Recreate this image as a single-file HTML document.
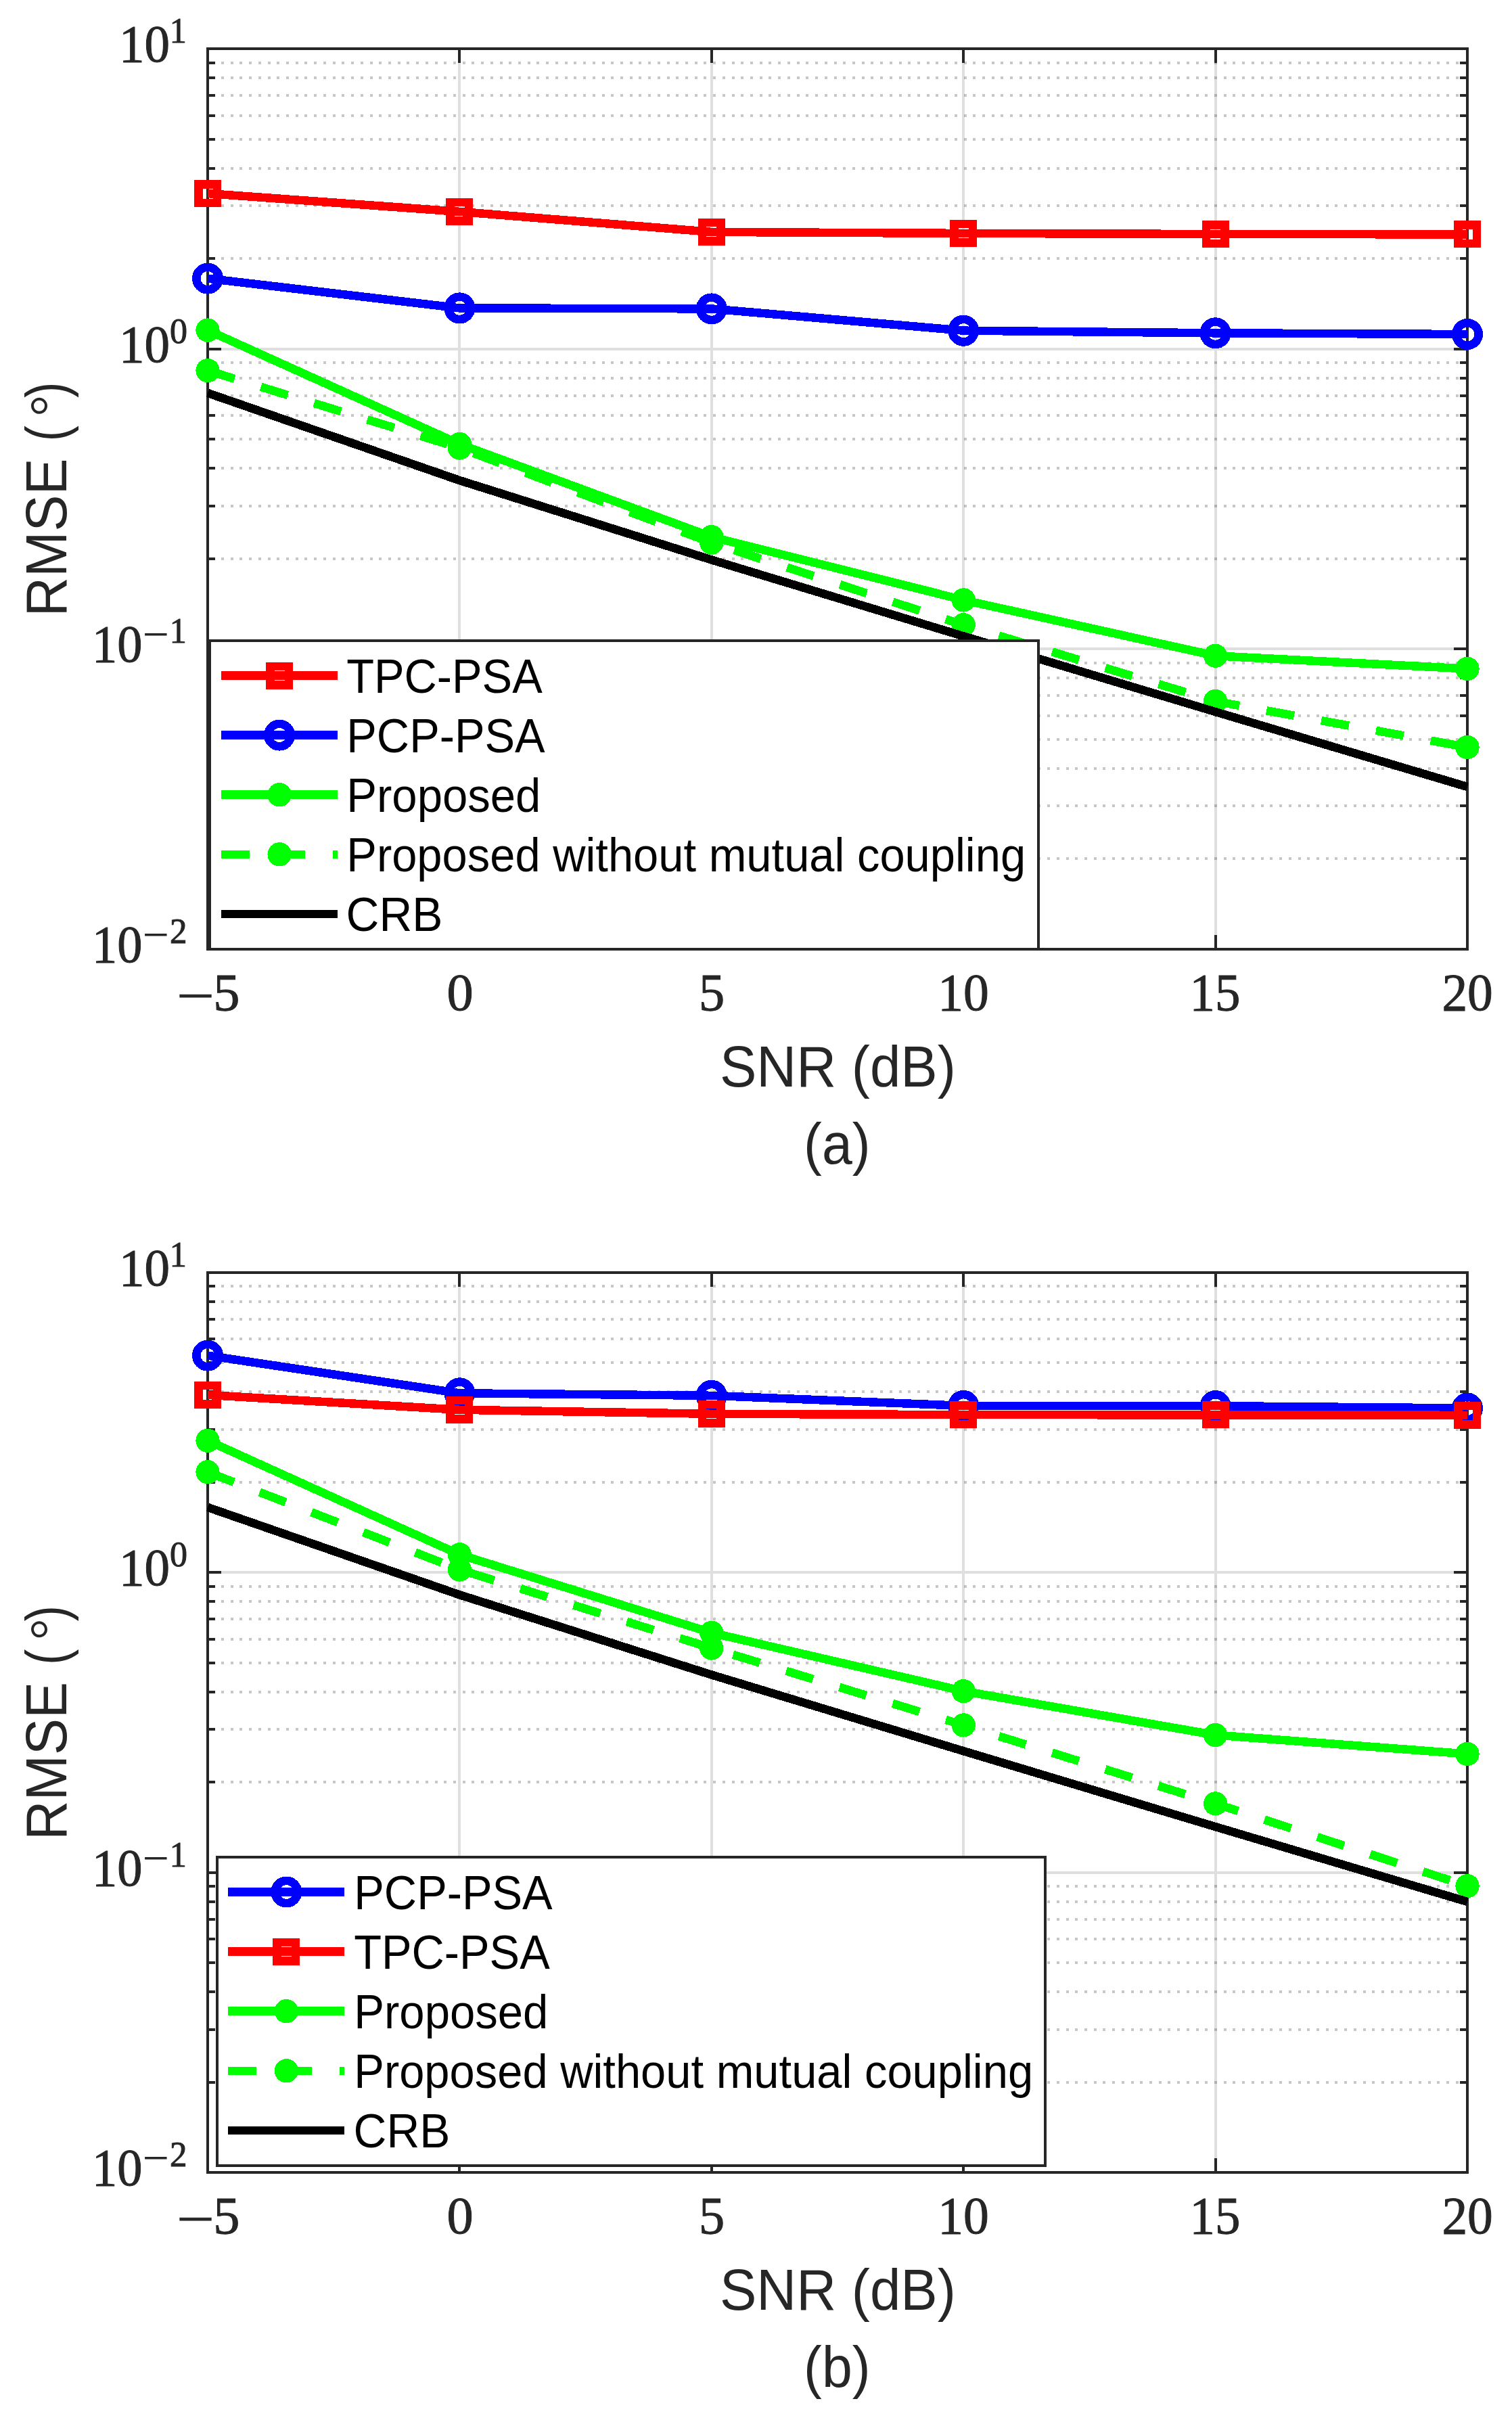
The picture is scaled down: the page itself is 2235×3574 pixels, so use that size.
<!DOCTYPE html><html><head><meta charset="utf-8"><title>RMSE versus SNR</title><style>html,body{margin:0;padding:0;background:#fff}svg{display:block}</style></head><body>
<svg width="2235" height="3574" viewBox="0 0 2235 3574">
<rect width="2235" height="3574" fill="#fff"/>
<g stroke="#dfdfdf" stroke-width="4" shape-rendering="crispEdges"><line x1="679" y1="72" x2="679" y2="1403"/><line x1="1052" y1="72" x2="1052" y2="1403"/><line x1="1424" y1="72" x2="1424" y2="1403"/><line x1="1797" y1="72" x2="1797" y2="1403"/><line x1="307" y1="516" x2="2169" y2="516"/><line x1="307" y1="959" x2="2169" y2="959"/></g>
<g stroke="#262626" stroke-opacity=".26" stroke-width="4" stroke-dasharray="4 9.72" shape-rendering="crispEdges"><line x1="327" y1="382" x2="2157" y2="382"/><line x1="327" y1="304" x2="2157" y2="304"/><line x1="327" y1="249" x2="2157" y2="249"/><line x1="327" y1="206" x2="2157" y2="206"/><line x1="327" y1="171" x2="2157" y2="171"/><line x1="327" y1="141" x2="2157" y2="141"/><line x1="327" y1="115" x2="2157" y2="115"/><line x1="327" y1="93" x2="2157" y2="93"/><line x1="327" y1="826" x2="2157" y2="826"/><line x1="327" y1="748" x2="2157" y2="748"/><line x1="327" y1="692" x2="2157" y2="692"/><line x1="327" y1="649" x2="2157" y2="649"/><line x1="327" y1="614" x2="2157" y2="614"/><line x1="327" y1="585" x2="2157" y2="585"/><line x1="327" y1="559" x2="2157" y2="559"/><line x1="327" y1="536" x2="2157" y2="536"/><line x1="327" y1="1269" x2="2157" y2="1269"/><line x1="327" y1="1191" x2="2157" y2="1191"/><line x1="327" y1="1136" x2="2157" y2="1136"/><line x1="327" y1="1093" x2="2157" y2="1093"/><line x1="327" y1="1058" x2="2157" y2="1058"/><line x1="327" y1="1028" x2="2157" y2="1028"/><line x1="327" y1="1002" x2="2157" y2="1002"/><line x1="327" y1="980" x2="2157" y2="980"/></g>
<g stroke="#262626" stroke-width="4" fill="none" shape-rendering="crispEdges"><rect x="307" y="72" width="1862" height="1331" fill="none"/><line x1="679" y1="72" x2="679" y2="93"/><line x1="679" y1="1403" x2="679" y2="1382"/><line x1="1052" y1="72" x2="1052" y2="93"/><line x1="1052" y1="1403" x2="1052" y2="1382"/><line x1="1424" y1="72" x2="1424" y2="93"/><line x1="1424" y1="1403" x2="1424" y2="1382"/><line x1="1797" y1="72" x2="1797" y2="93"/><line x1="1797" y1="1403" x2="1797" y2="1382"/><line x1="307" y1="516" x2="327" y2="516"/><line x1="2169" y1="516" x2="2149" y2="516"/><line x1="307" y1="959" x2="327" y2="959"/><line x1="2169" y1="959" x2="2149" y2="959"/><line x1="307" y1="382" x2="318" y2="382"/><line x1="2169" y1="382" x2="2158" y2="382"/><line x1="307" y1="304" x2="318" y2="304"/><line x1="2169" y1="304" x2="2158" y2="304"/><line x1="307" y1="249" x2="318" y2="249"/><line x1="2169" y1="249" x2="2158" y2="249"/><line x1="307" y1="206" x2="318" y2="206"/><line x1="2169" y1="206" x2="2158" y2="206"/><line x1="307" y1="171" x2="318" y2="171"/><line x1="2169" y1="171" x2="2158" y2="171"/><line x1="307" y1="141" x2="318" y2="141"/><line x1="2169" y1="141" x2="2158" y2="141"/><line x1="307" y1="115" x2="318" y2="115"/><line x1="2169" y1="115" x2="2158" y2="115"/><line x1="307" y1="93" x2="318" y2="93"/><line x1="2169" y1="93" x2="2158" y2="93"/><line x1="307" y1="826" x2="318" y2="826"/><line x1="2169" y1="826" x2="2158" y2="826"/><line x1="307" y1="748" x2="318" y2="748"/><line x1="2169" y1="748" x2="2158" y2="748"/><line x1="307" y1="692" x2="318" y2="692"/><line x1="2169" y1="692" x2="2158" y2="692"/><line x1="307" y1="649" x2="318" y2="649"/><line x1="2169" y1="649" x2="2158" y2="649"/><line x1="307" y1="614" x2="318" y2="614"/><line x1="2169" y1="614" x2="2158" y2="614"/><line x1="307" y1="585" x2="318" y2="585"/><line x1="2169" y1="585" x2="2158" y2="585"/><line x1="307" y1="559" x2="318" y2="559"/><line x1="2169" y1="559" x2="2158" y2="559"/><line x1="307" y1="536" x2="318" y2="536"/><line x1="2169" y1="536" x2="2158" y2="536"/><line x1="307" y1="1269" x2="318" y2="1269"/><line x1="2169" y1="1269" x2="2158" y2="1269"/><line x1="307" y1="1191" x2="318" y2="1191"/><line x1="2169" y1="1191" x2="2158" y2="1191"/><line x1="307" y1="1136" x2="318" y2="1136"/><line x1="2169" y1="1136" x2="2158" y2="1136"/><line x1="307" y1="1093" x2="318" y2="1093"/><line x1="2169" y1="1093" x2="2158" y2="1093"/><line x1="307" y1="1058" x2="318" y2="1058"/><line x1="2169" y1="1058" x2="2158" y2="1058"/><line x1="307" y1="1028" x2="318" y2="1028"/><line x1="2169" y1="1028" x2="2158" y2="1028"/><line x1="307" y1="1002" x2="318" y2="1002"/><line x1="2169" y1="1002" x2="2158" y2="1002"/><line x1="307" y1="980" x2="318" y2="980"/><line x1="2169" y1="980" x2="2158" y2="980"/></g>
<polyline points="307.0,286.0 679.4,312.9 1051.8,342.9 1424.2,344.9 1796.6,346.0 2169.0,346.4" fill="none" stroke="#ff0000" stroke-width="12.5" stroke-linejoin="round" shape-rendering="crispEdges"/>
<rect x="293.25" y="272.25" width="27.5" height="27.5" fill="none" stroke="#ff0000" stroke-width="12.5" shape-rendering="crispEdges"/>
<rect x="665.65" y="299.15" width="27.5" height="27.5" fill="none" stroke="#ff0000" stroke-width="12.5" shape-rendering="crispEdges"/>
<rect x="1038.05" y="329.15" width="27.5" height="27.5" fill="none" stroke="#ff0000" stroke-width="12.5" shape-rendering="crispEdges"/>
<rect x="1410.45" y="331.15" width="27.5" height="27.5" fill="none" stroke="#ff0000" stroke-width="12.5" shape-rendering="crispEdges"/>
<rect x="1782.85" y="332.25" width="27.5" height="27.5" fill="none" stroke="#ff0000" stroke-width="12.5" shape-rendering="crispEdges"/>
<rect x="2155.25" y="332.65" width="27.5" height="27.5" fill="none" stroke="#ff0000" stroke-width="12.5" shape-rendering="crispEdges"/>
<polyline points="307.0,411.6 679.4,455.4 1051.8,456.4 1424.2,488.7 1796.6,492.3 2169.0,494.0" fill="none" stroke="#0000ff" stroke-width="12.5" stroke-linejoin="round" shape-rendering="crispEdges"/>
<circle cx="307.00" cy="411.60" r="16.75" fill="none" stroke="#0000ff" stroke-width="12.5" shape-rendering="crispEdges"/>
<circle cx="679.40" cy="455.40" r="16.75" fill="none" stroke="#0000ff" stroke-width="12.5" shape-rendering="crispEdges"/>
<circle cx="1051.80" cy="456.40" r="16.75" fill="none" stroke="#0000ff" stroke-width="12.5" shape-rendering="crispEdges"/>
<circle cx="1424.20" cy="488.70" r="16.75" fill="none" stroke="#0000ff" stroke-width="12.5" shape-rendering="crispEdges"/>
<circle cx="1796.60" cy="492.30" r="16.75" fill="none" stroke="#0000ff" stroke-width="12.5" shape-rendering="crispEdges"/>
<circle cx="2169.00" cy="494.00" r="16.75" fill="none" stroke="#0000ff" stroke-width="12.5" shape-rendering="crispEdges"/>
<polyline points="307.0,488.1 679.4,656.4 1051.8,793.5 1424.2,886.9 1796.6,969.3 2169.0,988.5" fill="none" stroke="#00ff00" stroke-width="12.5" stroke-linejoin="round" shape-rendering="crispEdges"/>
<circle cx="307.00" cy="488.10" r="17.65" fill="#00ff00" shape-rendering="crispEdges"/>
<circle cx="679.40" cy="656.40" r="17.65" fill="#00ff00" shape-rendering="crispEdges"/>
<circle cx="1051.80" cy="793.50" r="17.65" fill="#00ff00" shape-rendering="crispEdges"/>
<circle cx="1424.20" cy="886.90" r="17.65" fill="#00ff00" shape-rendering="crispEdges"/>
<circle cx="1796.60" cy="969.30" r="17.65" fill="#00ff00" shape-rendering="crispEdges"/>
<circle cx="2169.00" cy="988.50" r="17.65" fill="#00ff00" shape-rendering="crispEdges"/>
<polyline points="307.0,547.7 679.4,662.0 1051.8,802.2 1424.2,923.7 1796.6,1036.5 2169.0,1104.5" fill="none" stroke="#00ff00" stroke-width="12.5" stroke-linejoin="round" stroke-dasharray="41.6 40.65" shape-rendering="crispEdges"/>
<circle cx="307.00" cy="547.70" r="17.65" fill="#00ff00" shape-rendering="crispEdges"/>
<circle cx="679.40" cy="662.00" r="17.65" fill="#00ff00" shape-rendering="crispEdges"/>
<circle cx="1051.80" cy="802.20" r="17.65" fill="#00ff00" shape-rendering="crispEdges"/>
<circle cx="1424.20" cy="923.70" r="17.65" fill="#00ff00" shape-rendering="crispEdges"/>
<circle cx="1796.60" cy="1036.50" r="17.65" fill="#00ff00" shape-rendering="crispEdges"/>
<circle cx="2169.00" cy="1104.50" r="17.65" fill="#00ff00" shape-rendering="crispEdges"/>
<polyline points="307.0,580.9 679.4,710.1 1051.8,827.5 1424.2,940.3 1796.6,1052.1 2169.0,1163.0" fill="none" stroke="#000000" stroke-width="12.5" stroke-linejoin="round" shape-rendering="crispEdges"/>
<rect x="310" y="947" width="1225" height="456" fill="#fff" stroke="#262626" stroke-width="4" shape-rendering="crispEdges"/>
<polyline points="327.0,998.5 499.2,998.5" fill="none" stroke="#ff0000" stroke-width="12.5" stroke-linejoin="round" shape-rendering="crispEdges"/>
<rect x="399.35" y="984.75" width="27.5" height="27.5" fill="none" stroke="#ff0000" stroke-width="12.5" shape-rendering="crispEdges"/>
<text font-family="'Liberation Sans',sans-serif" fill="#000" style="white-space:pre"><tspan x="512.20" y="1023.90" font-size="70.3" textLength="289.54" lengthAdjust="spacingAndGlyphs">TPC-PSA</tspan></text>
<polyline points="327.0,1086.6 499.2,1086.6" fill="none" stroke="#0000ff" stroke-width="12.5" stroke-linejoin="round" shape-rendering="crispEdges"/>
<circle cx="413.10" cy="1086.60" r="16.75" fill="none" stroke="#0000ff" stroke-width="12.5" shape-rendering="crispEdges"/>
<text font-family="'Liberation Sans',sans-serif" fill="#000" style="white-space:pre"><tspan x="512.30" y="1112.00" font-size="70.3" textLength="293.40" lengthAdjust="spacingAndGlyphs">PCP-PSA</tspan></text>
<polyline points="327.0,1174.7 499.2,1174.7" fill="none" stroke="#00ff00" stroke-width="12.5" stroke-linejoin="round" shape-rendering="crispEdges"/>
<circle cx="413.10" cy="1174.70" r="17.65" fill="#00ff00" shape-rendering="crispEdges"/>
<text font-family="'Liberation Sans',sans-serif" fill="#000" style="white-space:pre"><tspan x="512.28" y="1200.10" font-size="70.3" textLength="287.14" lengthAdjust="spacingAndGlyphs">Proposed</tspan></text>
<polyline points="327.0,1262.8 499.2,1262.8" fill="none" stroke="#00ff00" stroke-width="12.5" stroke-linejoin="round" stroke-dasharray="41.6 40.65" shape-rendering="crispEdges"/>
<circle cx="413.10" cy="1262.80" r="17.65" fill="#00ff00" shape-rendering="crispEdges"/>
<text font-family="'Liberation Sans',sans-serif" fill="#000" style="white-space:pre"><tspan x="512.29" y="1288.20" font-size="70.3" textLength="1003.82" lengthAdjust="spacingAndGlyphs">Proposed without mutual coupling</tspan></text>
<polyline points="327.0,1350.9 499.2,1350.9" fill="none" stroke="#000000" stroke-width="12.5" stroke-linejoin="round" shape-rendering="crispEdges"/>
<text font-family="'Liberation Sans',sans-serif" fill="#000" style="white-space:pre"><tspan x="511.55" y="1376.30" font-size="70.3" textLength="142.84" lengthAdjust="spacingAndGlyphs">CRB</tspan></text>
<text font-family="'Liberation Serif',serif" fill="#262626" stroke="#262626" stroke-width="1.0" style="white-space:pre"><tspan x="175.88" y="90.70" font-size="77.4" textLength="75.04" lengthAdjust="spacingAndGlyphs">10</tspan><tspan x="250.85" y="63.20" font-size="52.0" textLength="25.04" lengthAdjust="spacingAndGlyphs">1</tspan></text>
<text font-family="'Liberation Serif',serif" fill="#262626" stroke="#262626" stroke-width="1.0" style="white-space:pre"><tspan x="175.88" y="534.70" font-size="77.4" textLength="75.04" lengthAdjust="spacingAndGlyphs">10</tspan><tspan x="251.00" y="507.20" font-size="52.0" textLength="26.00" lengthAdjust="spacingAndGlyphs">0</tspan></text>
<text font-family="'Liberation Serif',serif" fill="#262626" stroke="#262626" stroke-width="1.0" style="white-space:pre"><tspan x="136.03" y="977.70" font-size="77.4" textLength="74.47" lengthAdjust="spacingAndGlyphs">10</tspan><tspan x="211.32" y="954.90" font-size="52.0" textLength="37.77" lengthAdjust="spacingAndGlyphs">−</tspan><tspan x="250.85" y="950.20" font-size="52.0" textLength="25.04" lengthAdjust="spacingAndGlyphs">1</tspan></text>
<text font-family="'Liberation Serif',serif" fill="#262626" stroke="#262626" stroke-width="1.0" style="white-space:pre"><tspan x="136.03" y="1421.70" font-size="77.4" textLength="74.47" lengthAdjust="spacingAndGlyphs">10</tspan><tspan x="211.32" y="1398.90" font-size="52.0" textLength="37.77" lengthAdjust="spacingAndGlyphs">−</tspan><tspan x="251.04" y="1394.20" font-size="52.0" textLength="25.53" lengthAdjust="spacingAndGlyphs">2</tspan></text>
<text font-family="'Liberation Serif',serif" fill="#262626" stroke="#262626" stroke-width="1.0" style="white-space:pre"><tspan x="260.96" y="1497.85" font-size="77.4" textLength="55.81" lengthAdjust="spacingAndGlyphs">−</tspan><tspan x="315.35" y="1492.80" font-size="77.4" textLength="39.19" lengthAdjust="spacingAndGlyphs">5</tspan></text>
<text font-family="'Liberation Serif',serif" fill="#262626" stroke="#262626" stroke-width="1.0" style="white-space:pre"><tspan x="660.58" y="1492.80" font-size="77.4" textLength="39.16" lengthAdjust="spacingAndGlyphs">0</tspan></text>
<text font-family="'Liberation Serif',serif" fill="#262626" stroke="#262626" stroke-width="1.0" style="white-space:pre"><tspan x="1033.05" y="1492.80" font-size="77.4" textLength="38.22" lengthAdjust="spacingAndGlyphs">5</tspan></text>
<text font-family="'Liberation Serif',serif" fill="#262626" stroke="#262626" stroke-width="1.0" style="white-space:pre"><tspan x="1386.24" y="1492.80" font-size="77.4" textLength="75.60" lengthAdjust="spacingAndGlyphs">10</tspan></text>
<text font-family="'Liberation Serif',serif" fill="#262626" stroke="#262626" stroke-width="1.0" style="white-space:pre"><tspan x="1758.60" y="1492.80" font-size="77.4" textLength="74.81" lengthAdjust="spacingAndGlyphs">15</tspan></text>
<text font-family="'Liberation Serif',serif" fill="#262626" stroke="#262626" stroke-width="1.0" style="white-space:pre"><tspan x="2131.38" y="1492.80" font-size="77.4" textLength="75.46" lengthAdjust="spacingAndGlyphs">20</tspan></text>
<text font-family="'Liberation Sans',sans-serif" fill="#262626" style="white-space:pre"><tspan x="1063.96" y="1605.90" font-size="85" textLength="348.88" lengthAdjust="spacingAndGlyphs">SNR (dB)</tspan></text>
<text font-family="'Liberation Sans',sans-serif" fill="#262626" style="white-space:pre"><tspan x="1188.06" y="1719.70" font-size="85" textLength="98.53" lengthAdjust="spacingAndGlyphs">(a)</tspan></text>
<text font-family="'Liberation Sans',sans-serif" fill="#262626" transform="translate(98,736.75) rotate(-90)" style="white-space:pre"><tspan x="-174.67" y="0.00" font-size="85" textLength="233.99" lengthAdjust="spacingAndGlyphs">RMSE</tspan> <tspan x="84.61" y="0.00" font-size="85" textLength="23.16" lengthAdjust="spacingAndGlyphs">(</tspan><tspan x="121.33" y="1.00" font-size="79.5" textLength="31.53" lengthAdjust="spacingAndGlyphs" font-family="'Liberation Serif',serif" stroke="none">°</tspan><tspan x="148.87" y="0.00" font-size="85" textLength="23.42" lengthAdjust="spacingAndGlyphs">)</tspan></text>
<g stroke="#dfdfdf" stroke-width="4" shape-rendering="crispEdges"><line x1="679" y1="1881" x2="679" y2="3211"/><line x1="1052" y1="1881" x2="1052" y2="3211"/><line x1="1424" y1="1881" x2="1424" y2="3211"/><line x1="1797" y1="1881" x2="1797" y2="3211"/><line x1="307" y1="2324" x2="2169" y2="2324"/><line x1="307" y1="2768" x2="2169" y2="2768"/></g>
<g stroke="#262626" stroke-opacity=".26" stroke-width="4" stroke-dasharray="4 9.72" shape-rendering="crispEdges"><line x1="327" y1="2191" x2="2157" y2="2191"/><line x1="327" y1="2113" x2="2157" y2="2113"/><line x1="327" y1="2057" x2="2157" y2="2057"/><line x1="327" y1="2014" x2="2157" y2="2014"/><line x1="327" y1="1979" x2="2157" y2="1979"/><line x1="327" y1="1950" x2="2157" y2="1950"/><line x1="327" y1="1924" x2="2157" y2="1924"/><line x1="327" y1="1901" x2="2157" y2="1901"/><line x1="327" y1="2634" x2="2157" y2="2634"/><line x1="327" y1="2556" x2="2157" y2="2556"/><line x1="327" y1="2501" x2="2157" y2="2501"/><line x1="327" y1="2458" x2="2157" y2="2458"/><line x1="327" y1="2423" x2="2157" y2="2423"/><line x1="327" y1="2393" x2="2157" y2="2393"/><line x1="327" y1="2367" x2="2157" y2="2367"/><line x1="327" y1="2345" x2="2157" y2="2345"/><line x1="327" y1="3078" x2="2157" y2="3078"/><line x1="327" y1="3000" x2="2157" y2="3000"/><line x1="327" y1="2944" x2="2157" y2="2944"/><line x1="327" y1="2901" x2="2157" y2="2901"/><line x1="327" y1="2866" x2="2157" y2="2866"/><line x1="327" y1="2837" x2="2157" y2="2837"/><line x1="327" y1="2811" x2="2157" y2="2811"/><line x1="327" y1="2788" x2="2157" y2="2788"/></g>
<g stroke="#262626" stroke-width="4" fill="none" shape-rendering="crispEdges"><rect x="307" y="1881" width="1862" height="1330" fill="none"/><line x1="679" y1="1881" x2="679" y2="1902"/><line x1="679" y1="3211" x2="679" y2="3190"/><line x1="1052" y1="1881" x2="1052" y2="1902"/><line x1="1052" y1="3211" x2="1052" y2="3190"/><line x1="1424" y1="1881" x2="1424" y2="1902"/><line x1="1424" y1="3211" x2="1424" y2="3190"/><line x1="1797" y1="1881" x2="1797" y2="1902"/><line x1="1797" y1="3211" x2="1797" y2="3190"/><line x1="307" y1="2324" x2="327" y2="2324"/><line x1="2169" y1="2324" x2="2149" y2="2324"/><line x1="307" y1="2768" x2="327" y2="2768"/><line x1="2169" y1="2768" x2="2149" y2="2768"/><line x1="307" y1="2191" x2="318" y2="2191"/><line x1="2169" y1="2191" x2="2158" y2="2191"/><line x1="307" y1="2113" x2="318" y2="2113"/><line x1="2169" y1="2113" x2="2158" y2="2113"/><line x1="307" y1="2057" x2="318" y2="2057"/><line x1="2169" y1="2057" x2="2158" y2="2057"/><line x1="307" y1="2014" x2="318" y2="2014"/><line x1="2169" y1="2014" x2="2158" y2="2014"/><line x1="307" y1="1979" x2="318" y2="1979"/><line x1="2169" y1="1979" x2="2158" y2="1979"/><line x1="307" y1="1950" x2="318" y2="1950"/><line x1="2169" y1="1950" x2="2158" y2="1950"/><line x1="307" y1="1924" x2="318" y2="1924"/><line x1="2169" y1="1924" x2="2158" y2="1924"/><line x1="307" y1="1901" x2="318" y2="1901"/><line x1="2169" y1="1901" x2="2158" y2="1901"/><line x1="307" y1="2634" x2="318" y2="2634"/><line x1="2169" y1="2634" x2="2158" y2="2634"/><line x1="307" y1="2556" x2="318" y2="2556"/><line x1="2169" y1="2556" x2="2158" y2="2556"/><line x1="307" y1="2501" x2="318" y2="2501"/><line x1="2169" y1="2501" x2="2158" y2="2501"/><line x1="307" y1="2458" x2="318" y2="2458"/><line x1="2169" y1="2458" x2="2158" y2="2458"/><line x1="307" y1="2423" x2="318" y2="2423"/><line x1="2169" y1="2423" x2="2158" y2="2423"/><line x1="307" y1="2393" x2="318" y2="2393"/><line x1="2169" y1="2393" x2="2158" y2="2393"/><line x1="307" y1="2367" x2="318" y2="2367"/><line x1="2169" y1="2367" x2="2158" y2="2367"/><line x1="307" y1="2345" x2="318" y2="2345"/><line x1="2169" y1="2345" x2="2158" y2="2345"/><line x1="307" y1="3078" x2="318" y2="3078"/><line x1="2169" y1="3078" x2="2158" y2="3078"/><line x1="307" y1="3000" x2="318" y2="3000"/><line x1="2169" y1="3000" x2="2158" y2="3000"/><line x1="307" y1="2944" x2="318" y2="2944"/><line x1="2169" y1="2944" x2="2158" y2="2944"/><line x1="307" y1="2901" x2="318" y2="2901"/><line x1="2169" y1="2901" x2="2158" y2="2901"/><line x1="307" y1="2866" x2="318" y2="2866"/><line x1="2169" y1="2866" x2="2158" y2="2866"/><line x1="307" y1="2837" x2="318" y2="2837"/><line x1="2169" y1="2837" x2="2158" y2="2837"/><line x1="307" y1="2811" x2="318" y2="2811"/><line x1="2169" y1="2811" x2="2158" y2="2811"/><line x1="307" y1="2788" x2="318" y2="2788"/><line x1="2169" y1="2788" x2="2158" y2="2788"/></g>
<polyline points="307.0,2003.6 679.4,2059.3 1051.8,2062.8 1424.2,2077.9 1796.6,2078.1 2169.0,2081.5" fill="none" stroke="#0000ff" stroke-width="12.5" stroke-linejoin="round" shape-rendering="crispEdges"/>
<circle cx="307.00" cy="2003.60" r="16.75" fill="none" stroke="#0000ff" stroke-width="12.5" shape-rendering="crispEdges"/>
<circle cx="679.40" cy="2059.30" r="16.75" fill="none" stroke="#0000ff" stroke-width="12.5" shape-rendering="crispEdges"/>
<circle cx="1051.80" cy="2062.80" r="16.75" fill="none" stroke="#0000ff" stroke-width="12.5" shape-rendering="crispEdges"/>
<circle cx="1424.20" cy="2077.90" r="16.75" fill="none" stroke="#0000ff" stroke-width="12.5" shape-rendering="crispEdges"/>
<circle cx="1796.60" cy="2078.10" r="16.75" fill="none" stroke="#0000ff" stroke-width="12.5" shape-rendering="crispEdges"/>
<circle cx="2169.00" cy="2081.50" r="16.75" fill="none" stroke="#0000ff" stroke-width="12.5" shape-rendering="crispEdges"/>
<polyline points="307.0,2061.9 679.4,2083.8 1051.8,2089.8 1424.2,2091.1 1796.6,2091.4 2169.0,2091.8" fill="none" stroke="#ff0000" stroke-width="12.5" stroke-linejoin="round" shape-rendering="crispEdges"/>
<rect x="293.25" y="2048.15" width="27.5" height="27.5" fill="none" stroke="#ff0000" stroke-width="12.5" shape-rendering="crispEdges"/>
<rect x="665.65" y="2070.05" width="27.5" height="27.5" fill="none" stroke="#ff0000" stroke-width="12.5" shape-rendering="crispEdges"/>
<rect x="1038.05" y="2076.05" width="27.5" height="27.5" fill="none" stroke="#ff0000" stroke-width="12.5" shape-rendering="crispEdges"/>
<rect x="1410.45" y="2077.35" width="27.5" height="27.5" fill="none" stroke="#ff0000" stroke-width="12.5" shape-rendering="crispEdges"/>
<rect x="1782.85" y="2077.65" width="27.5" height="27.5" fill="none" stroke="#ff0000" stroke-width="12.5" shape-rendering="crispEdges"/>
<rect x="2155.25" y="2078.05" width="27.5" height="27.5" fill="none" stroke="#ff0000" stroke-width="12.5" shape-rendering="crispEdges"/>
<polyline points="307.0,2129.3 679.4,2297.8 1051.8,2413.3 1424.2,2499.6 1796.6,2564.5 2169.0,2592.5" fill="none" stroke="#00ff00" stroke-width="12.5" stroke-linejoin="round" shape-rendering="crispEdges"/>
<circle cx="307.00" cy="2129.30" r="17.65" fill="#00ff00" shape-rendering="crispEdges"/>
<circle cx="679.40" cy="2297.80" r="17.65" fill="#00ff00" shape-rendering="crispEdges"/>
<circle cx="1051.80" cy="2413.30" r="17.65" fill="#00ff00" shape-rendering="crispEdges"/>
<circle cx="1424.20" cy="2499.60" r="17.65" fill="#00ff00" shape-rendering="crispEdges"/>
<circle cx="1796.60" cy="2564.50" r="17.65" fill="#00ff00" shape-rendering="crispEdges"/>
<circle cx="2169.00" cy="2592.50" r="17.65" fill="#00ff00" shape-rendering="crispEdges"/>
<polyline points="307.0,2175.8 679.4,2320.0 1051.8,2436.0 1424.2,2549.9 1796.6,2665.9 2169.0,2787.7" fill="none" stroke="#00ff00" stroke-width="12.5" stroke-linejoin="round" stroke-dasharray="41.6 40.65" shape-rendering="crispEdges"/>
<circle cx="307.00" cy="2175.80" r="17.65" fill="#00ff00" shape-rendering="crispEdges"/>
<circle cx="679.40" cy="2320.00" r="17.65" fill="#00ff00" shape-rendering="crispEdges"/>
<circle cx="1051.80" cy="2436.00" r="17.65" fill="#00ff00" shape-rendering="crispEdges"/>
<circle cx="1424.20" cy="2549.90" r="17.65" fill="#00ff00" shape-rendering="crispEdges"/>
<circle cx="1796.60" cy="2665.90" r="17.65" fill="#00ff00" shape-rendering="crispEdges"/>
<circle cx="2169.00" cy="2787.70" r="17.65" fill="#00ff00" shape-rendering="crispEdges"/>
<polyline points="307.0,2227.9 679.4,2357.3 1051.8,2475.5 1424.2,2588.2 1796.6,2700.1 2169.0,2810.9" fill="none" stroke="#000000" stroke-width="12.5" stroke-linejoin="round" shape-rendering="crispEdges"/>
<rect x="321" y="2745" width="1224" height="456" fill="#fff" stroke="#262626" stroke-width="4" shape-rendering="crispEdges"/>
<polyline points="337.2,2796.5 509.4,2796.5" fill="none" stroke="#0000ff" stroke-width="12.5" stroke-linejoin="round" shape-rendering="crispEdges"/>
<circle cx="423.30" cy="2796.50" r="16.75" fill="none" stroke="#0000ff" stroke-width="12.5" shape-rendering="crispEdges"/>
<text font-family="'Liberation Sans',sans-serif" fill="#000" style="white-space:pre"><tspan x="523.30" y="2821.90" font-size="70.3" textLength="293.40" lengthAdjust="spacingAndGlyphs">PCP-PSA</tspan></text>
<polyline points="337.2,2884.6 509.4,2884.6" fill="none" stroke="#ff0000" stroke-width="12.5" stroke-linejoin="round" shape-rendering="crispEdges"/>
<rect x="409.55" y="2870.85" width="27.5" height="27.5" fill="none" stroke="#ff0000" stroke-width="12.5" shape-rendering="crispEdges"/>
<text font-family="'Liberation Sans',sans-serif" fill="#000" style="white-space:pre"><tspan x="523.20" y="2910.00" font-size="70.3" textLength="289.54" lengthAdjust="spacingAndGlyphs">TPC-PSA</tspan></text>
<polyline points="337.2,2972.7 509.4,2972.7" fill="none" stroke="#00ff00" stroke-width="12.5" stroke-linejoin="round" shape-rendering="crispEdges"/>
<circle cx="423.30" cy="2972.70" r="17.65" fill="#00ff00" shape-rendering="crispEdges"/>
<text font-family="'Liberation Sans',sans-serif" fill="#000" style="white-space:pre"><tspan x="523.28" y="2998.10" font-size="70.3" textLength="287.14" lengthAdjust="spacingAndGlyphs">Proposed</tspan></text>
<polyline points="337.2,3060.8 509.4,3060.8" fill="none" stroke="#00ff00" stroke-width="12.5" stroke-linejoin="round" stroke-dasharray="41.6 40.65" shape-rendering="crispEdges"/>
<circle cx="423.30" cy="3060.80" r="17.65" fill="#00ff00" shape-rendering="crispEdges"/>
<text font-family="'Liberation Sans',sans-serif" fill="#000" style="white-space:pre"><tspan x="523.29" y="3086.20" font-size="70.3" textLength="1003.82" lengthAdjust="spacingAndGlyphs">Proposed without mutual coupling</tspan></text>
<polyline points="337.2,3148.9 509.4,3148.9" fill="none" stroke="#000000" stroke-width="12.5" stroke-linejoin="round" shape-rendering="crispEdges"/>
<text font-family="'Liberation Sans',sans-serif" fill="#000" style="white-space:pre"><tspan x="522.55" y="3174.30" font-size="70.3" textLength="142.84" lengthAdjust="spacingAndGlyphs">CRB</tspan></text>
<text font-family="'Liberation Serif',serif" fill="#262626" stroke="#262626" stroke-width="1.0" style="white-space:pre"><tspan x="175.88" y="1899.70" font-size="77.4" textLength="75.04" lengthAdjust="spacingAndGlyphs">10</tspan><tspan x="250.85" y="1872.20" font-size="52.0" textLength="25.04" lengthAdjust="spacingAndGlyphs">1</tspan></text>
<text font-family="'Liberation Serif',serif" fill="#262626" stroke="#262626" stroke-width="1.0" style="white-space:pre"><tspan x="175.88" y="2342.70" font-size="77.4" textLength="75.04" lengthAdjust="spacingAndGlyphs">10</tspan><tspan x="251.00" y="2315.20" font-size="52.0" textLength="26.00" lengthAdjust="spacingAndGlyphs">0</tspan></text>
<text font-family="'Liberation Serif',serif" fill="#262626" stroke="#262626" stroke-width="1.0" style="white-space:pre"><tspan x="136.03" y="2786.70" font-size="77.4" textLength="74.47" lengthAdjust="spacingAndGlyphs">10</tspan><tspan x="211.32" y="2763.90" font-size="52.0" textLength="37.77" lengthAdjust="spacingAndGlyphs">−</tspan><tspan x="250.85" y="2759.20" font-size="52.0" textLength="25.04" lengthAdjust="spacingAndGlyphs">1</tspan></text>
<text font-family="'Liberation Serif',serif" fill="#262626" stroke="#262626" stroke-width="1.0" style="white-space:pre"><tspan x="136.03" y="3229.70" font-size="77.4" textLength="74.47" lengthAdjust="spacingAndGlyphs">10</tspan><tspan x="211.32" y="3206.90" font-size="52.0" textLength="37.77" lengthAdjust="spacingAndGlyphs">−</tspan><tspan x="251.04" y="3202.20" font-size="52.0" textLength="25.53" lengthAdjust="spacingAndGlyphs">2</tspan></text>
<text font-family="'Liberation Serif',serif" fill="#262626" stroke="#262626" stroke-width="1.0" style="white-space:pre"><tspan x="260.96" y="3305.85" font-size="77.4" textLength="55.81" lengthAdjust="spacingAndGlyphs">−</tspan><tspan x="315.35" y="3300.80" font-size="77.4" textLength="39.19" lengthAdjust="spacingAndGlyphs">5</tspan></text>
<text font-family="'Liberation Serif',serif" fill="#262626" stroke="#262626" stroke-width="1.0" style="white-space:pre"><tspan x="660.58" y="3300.80" font-size="77.4" textLength="39.16" lengthAdjust="spacingAndGlyphs">0</tspan></text>
<text font-family="'Liberation Serif',serif" fill="#262626" stroke="#262626" stroke-width="1.0" style="white-space:pre"><tspan x="1033.05" y="3300.80" font-size="77.4" textLength="38.22" lengthAdjust="spacingAndGlyphs">5</tspan></text>
<text font-family="'Liberation Serif',serif" fill="#262626" stroke="#262626" stroke-width="1.0" style="white-space:pre"><tspan x="1386.24" y="3300.80" font-size="77.4" textLength="75.60" lengthAdjust="spacingAndGlyphs">10</tspan></text>
<text font-family="'Liberation Serif',serif" fill="#262626" stroke="#262626" stroke-width="1.0" style="white-space:pre"><tspan x="1758.60" y="3300.80" font-size="77.4" textLength="74.81" lengthAdjust="spacingAndGlyphs">15</tspan></text>
<text font-family="'Liberation Serif',serif" fill="#262626" stroke="#262626" stroke-width="1.0" style="white-space:pre"><tspan x="2131.38" y="3300.80" font-size="77.4" textLength="75.46" lengthAdjust="spacingAndGlyphs">20</tspan></text>
<text font-family="'Liberation Sans',sans-serif" fill="#262626" style="white-space:pre"><tspan x="1063.96" y="3413.90" font-size="85" textLength="348.88" lengthAdjust="spacingAndGlyphs">SNR (dB)</tspan></text>
<text font-family="'Liberation Sans',sans-serif" fill="#262626" style="white-space:pre"><tspan x="1188.06" y="3527.70" font-size="85" textLength="98.53" lengthAdjust="spacingAndGlyphs">(b)</tspan></text>
<text font-family="'Liberation Sans',sans-serif" fill="#262626" transform="translate(98,2545.25) rotate(-90)" style="white-space:pre"><tspan x="-174.67" y="0.00" font-size="85" textLength="233.99" lengthAdjust="spacingAndGlyphs">RMSE</tspan> <tspan x="84.61" y="0.00" font-size="85" textLength="23.16" lengthAdjust="spacingAndGlyphs">(</tspan><tspan x="121.33" y="1.00" font-size="79.5" textLength="31.53" lengthAdjust="spacingAndGlyphs" font-family="'Liberation Serif',serif" stroke="none">°</tspan><tspan x="148.87" y="0.00" font-size="85" textLength="23.42" lengthAdjust="spacingAndGlyphs">)</tspan></text>
</svg></body></html>
